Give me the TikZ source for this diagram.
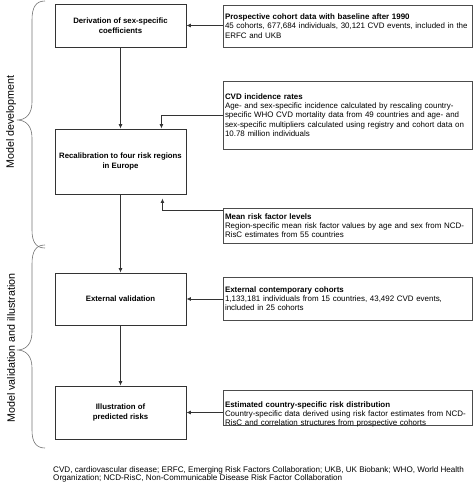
\documentclass[tikz,border=0pt]{standalone}
\usepackage{fontspec}
\setmainfont{Liberation Sans}
\usetikzlibrary{arrows.meta,calc}
\begin{document}
\begin{tikzpicture}[x=1pt,y=-1pt,
  leftbox/.style={draw=black!80,line width=0.9pt,minimum width=131pt,inner sep=2pt,align=center,font=\fontsize{7.8}{10}\selectfont\bfseries},
  rightbox/.style={draw=black!70,line width=0.9pt,minimum width=249pt,inner sep=2pt,align=left,text width=245pt,font=\fontsize{7.95}{9.2}\selectfont},
  conn/.style={draw=black!80,line width=0.8pt,-{Latex[length=4.5pt,width=4pt]}},
  bracestyle/.style={draw=black!55,line width=0.6pt},
  sidelabel/.style={rotate=90,font=\fontsize{10.7}{12}\selectfont}]
\useasboundingbox (0,0) rectangle (474,485);
% left boxes
\node[leftbox,minimum height=43pt] (B1) at (120.5,25.5) {Derivation of sex-specific\\coefficients};
\node[leftbox,minimum height=65pt] (B2) at (120.5,161.5) {Recalibration to four risk regions\\in Europe};
\node[leftbox,minimum height=52pt] (B3) at (120.5,299) {External validation};
\node[leftbox,minimum height=53pt] (B4) at (120.5,412.5) {Illustration of\\predicted risks};
% right boxes
\node[rightbox,minimum height=42pt] (R1) at (347.5,26) {\textbf{Prospective cohort data with baseline after 1990}\\45 cohorts, 677,684 individuals, 30,121 CVD events, included in the\\ERFC and UKB};
\node[rightbox,minimum height=68pt] (R2) at (347.5,115) {\textbf{CVD incidence rates}\\Age- and sex-specific incidence calculated by rescaling country-\\specific WHO CVD mortality data from 49 countries and age- and\\sex-specific multipliers calculated using registry and cohort data on\\10.78 million individuals};
\node[rightbox,minimum height=35pt] (R3) at (347.5,225.5) {\textbf{Mean risk factor levels}\\Region-specific mean risk factor values by age and sex from NCD-\\RisC estimates from 55 countries};
\node[rightbox,minimum height=43pt] (R4) at (347.5,298.5) {\textbf{External contemporary cohorts}\\1,133,181 individuals from 15 countries, 43,492 CVD events,\\included in 25 cohorts};
\node[rightbox,minimum height=35pt,text depth=6pt] (R5) at (347.5,407.5) {\textbf{Estimated country-specific risk distribution}\\Country-specific data derived using risk factor estimates from NCD-\\RisC and correlation structures from prospective cohorts};
% connectors
\draw[conn] (R1.west |- B1.east) -- (B1.east);
\draw[conn] (B1.south) -- (B2.north);
\coordinate (c2) at ($(B2.north east)+(-25,0)$);
\draw[conn] (R2.west) -| (c2);
\coordinate (r3) at ($(R3.north west)+(0,3)$);
\coordinate (c3) at ($(B2.south east)+(-24,4)$);
\draw[conn] (r3) -| (c3);
\draw[conn] (B2.south) -- (B3.north);
\draw[conn] (R4.west |- B3.east) -- (B3.east);
\draw[conn] (B3.south) -- (B4.north);
\draw[conn] (R5.west |- B4.east) -- (B4.east);
% braces
\draw[bracestyle] (45,1) .. controls (36,1) and (32,7) .. (32,20) -- (32,102) .. controls (32,114) and (26,120) .. (17,120) .. controls (26,120) and (32,126) .. (32,138) -- (32,230) .. controls (32,242) and (36,248) .. (45,248);
\draw[bracestyle] (45,245) .. controls (36,245) and (32,251) .. (32,264) -- (32,332) .. controls (32,344) and (26,350) .. (17,350) .. controls (26,350) and (32,356) .. (32,368) -- (32,430) .. controls (32,442) and (36,448) .. (45,448);
\node[sidelabel] (L1) at (11,122) {Model development};
\node[sidelabel] (L2) at (11,348) {Model validation and illustration};
% footnote
\node[anchor=west,align=left,inner sep=0pt,font=\fontsize{8.1}{8.2}\selectfont] (fn) at (53,474) {CVD, cardiovascular disease; ERFC, Emerging Risk Factors Collaboration; UKB, UK Biobank; WHO, World Health\\Organization; NCD-RisC, Non-Communicable Disease Risk Factor Collaboration};
\end{tikzpicture}
\end{document}
